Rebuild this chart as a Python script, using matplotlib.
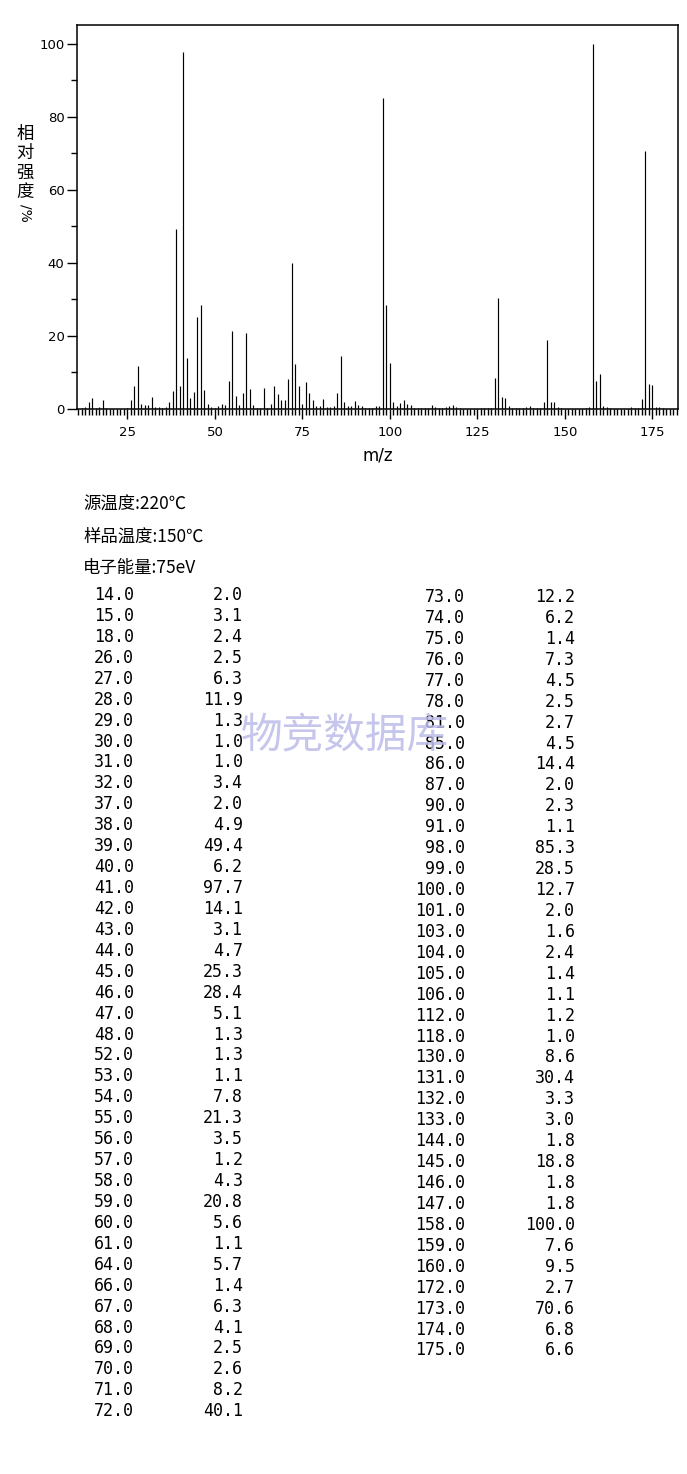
import numpy as np
import matplotlib.pyplot as plt
from matplotlib.ticker import MultipleLocator

plt.rcParams['font.family'] = ['DejaVu Sans', 'Noto Sans CJK SC']

# peak list as printed under the spectrum (m/z, relative intensity %)
mz = [14, 15, 18, 26, 27, 28, 29, 30, 31, 32, 37, 38, 39, 40, 41, 42, 43, 44, 45, 46,
      47, 48, 52, 53, 54, 55, 56, 57, 58, 59, 60, 61, 64, 66, 67, 68, 69, 70, 71, 72,
      73, 74, 75, 76, 77, 78, 81, 85, 86, 87, 90, 91, 98, 99, 100, 101, 103, 104, 105, 106,
      112, 118, 130, 131, 132, 133, 144, 145, 146, 147, 158, 159, 160, 172, 173, 174, 175]
intensity = [2.0, 3.1, 2.4, 2.5, 6.3, 11.9, 1.3, 1.0, 1.0, 3.4, 2.0, 4.9, 49.4, 6.2, 97.7, 14.1, 3.1, 4.7, 25.3, 28.4,
             5.1, 1.3, 1.3, 1.1, 7.8, 21.3, 3.5, 1.2, 4.3, 20.8, 5.6, 1.1, 5.7, 1.4, 6.3, 4.1, 2.5, 2.6, 8.2, 40.1,
             12.2, 6.2, 1.4, 7.3, 4.5, 2.5, 2.7, 4.5, 14.4, 2.0, 2.3, 1.1, 85.3, 28.5, 12.7, 2.0, 1.6, 2.4, 1.4, 1.1,
             1.2, 1.0, 8.6, 30.4, 3.3, 3.0, 1.8, 18.8, 1.8, 1.8, 100.0, 7.6, 9.5, 2.7, 70.6, 6.8, 6.6]

# minor peaks (<1 %) only visible in the spectrum, estimated by eye
small_mz = [12, 13, 16, 17, 19, 25, 33, 34, 35, 36, 49, 50, 51, 62, 63, 65, 79, 80, 82, 83,
            84, 88, 89, 92, 93, 94, 95, 96, 97, 102, 107, 108, 109, 110, 111, 113, 114, 115, 116, 117,
            119, 120, 126, 127, 128, 129, 134, 135, 136, 137, 138, 139, 140, 141, 142, 143, 148, 149, 156, 157,
            161, 162, 163, 169, 170, 171, 176, 177, 178]
small_int = [0.3, 0.5, 0.3, 0.6, 0.3, 0.3, 0.5, 0.6, 0.4, 0.6, 0.5, 0.4, 0.8, 0.4, 0.4, 0.4, 0.7, 0.7, 0.5, 0.5,
             0.9, 0.9, 0.9, 0.9, 0.4, 0.4, 0.4, 0.7, 0.7, 0.7, 0.4, 0.4, 0.3, 0.4, 0.4, 0.5, 0.4, 0.4, 0.5, 0.9,
             0.5, 0.3, 0.4, 0.4, 0.4, 0.4, 0.9, 0.4, 0.4, 0.4, 0.4, 0.5, 0.9, 0.4, 0.4, 0.4, 0.5, 0.4, 0.4, 0.5,
             0.9, 0.5, 0.4, 0.5, 0.4, 0.4, 0.6, 0.5, 0.2]

info = ["源温度:220℃", "样品温度:150℃", "电子能量:75eV"]

W, H = 687, 1474
fig = plt.figure(figsize=(W / 100, H / 100), dpi=100)
ax = fig.add_axes([77 / W, 1 - 409 / H, 601 / W, 384 / H])

all_mz = mz + small_mz
all_int = intensity + small_int
ax.vlines(all_mz, 0, all_int, color='black', lw=0.85)

ax.set_xlim(10.6, 182.3)
ax.set_ylim(0, 105.2)
for s in ax.spines.values():
    s.set_linewidth(1.1)

ax.xaxis.set_major_locator(MultipleLocator(25))
ax.xaxis.set_minor_locator(MultipleLocator(1))
ax.yaxis.set_major_locator(MultipleLocator(20))
ax.yaxis.set_minor_locator(MultipleLocator(10))
ax.tick_params(which='major', length=7, width=1, labelsize=9.5)
ax.tick_params(which='minor', length=4, width=1)
ax.tick_params(axis='x', which='major', pad=5)
ax.tick_params(axis='y', which='major', pad=2)

ax.set_xlabel("m/z", fontsize=12, labelpad=6)
fig.text(25 / W, 1 - 163 / H, "相\n对\n强\n度", fontsize=12.5, ha='center', va='center',
         linespacing=1.08, family=['Noto Sans CJK SC', 'DejaVu Sans'])
fig.text(25 / W, 1 - 213 / H, "/%", fontsize=10, ha='center', va='center', rotation=-90)

# instrument conditions
for i, t in enumerate(info):
    fig.text(83 / W, 1 - (505 + i * 31.5) / H, t, fontsize=12.5, va='center',
             family=['Noto Sans CJK SC', 'DejaVu Sans'])

# peak table in two columns
n_left = 40
cols = [(mz[:n_left], intensity[:n_left], 134, 243, 595),
        (mz[n_left:], intensity[n_left:], 465, 575, 597)]
for m_list, i_list, xm, xi, y0 in cols:
    for k, (m, v) in enumerate(zip(m_list, i_list)):
        y = 1 - (y0 + k * 20.93) / H
        fig.text(xm / W, y, f"{m:.1f}", fontsize=12, family='DejaVu Sans Mono', ha='right', va='center')
        fig.text(xi / W, y, f"{v:.1f}", fontsize=12, family='DejaVu Sans Mono', ha='right', va='center')

fig.text(345 / W, 1 - 736 / H, "物竞数据库", fontsize=30, color='#bcbcea', alpha=0.85,
         ha='center', va='center', family=['Noto Sans CJK SC', 'DejaVu Sans'])

fig.savefig("out.png", dpi=100)
